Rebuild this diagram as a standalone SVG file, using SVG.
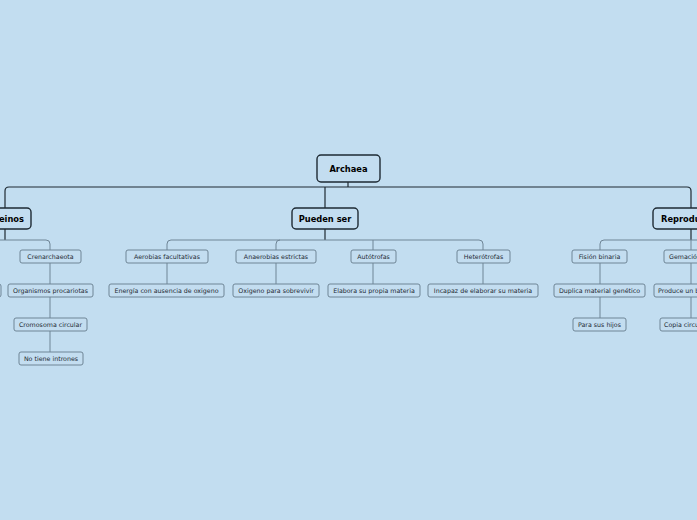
<svg xmlns="http://www.w3.org/2000/svg" width="697" height="520" viewBox="0 0 697 520">
<style>
.m{fill:#c3ddf0;stroke:#1e2a33;stroke-width:1.4}
.s{fill:#c3ddf0;stroke:#6f8596;stroke-width:1}
.t1{font:bold 8.3px "DejaVu Sans",sans-serif;fill:#000;text-anchor:middle}
.t2{font:6.3px "DejaVu Sans",sans-serif;fill:#1e2a33;text-anchor:middle}
.c1{fill:none;stroke:#1e2a33;stroke-width:1.2}
.c2{fill:none;stroke:#6f8596;stroke-width:1}
</style>
<rect width="697" height="520" fill="#c2ddf0"/>
<g id="connectors">
<path class="c1" d="M348 182V187M5 208V191Q5 187 9 187H687Q691 187 691 191V208M325 187V208"/>
<path class="c1" d="M5 229V240M325 229V240M691 229V240"/>
<path class="c2" d="M-40 240H46Q50 240 50 244V250M50 263V284M50 297V318M50 331V352M-40 240V244"/>
<path class="c2" d="M167 250V244Q167 240 171 240H479Q483 240 483 244V250M276 250V244Q276 240 280 240M373 240V250M167 263V284M276 263V284M373 263V284M483 263V284"/>
<path class="c2" d="M600 250V244Q600 240 604 240H720M691 240V250M600 263V284M600 297V318M691 263V284M691 297V318"/>
</g>
<g id="root"><rect class="m" x="317" y="155" width="63" height="27" rx="4"/><text class="t1" x="348.5" y="171.5">Archaea</text></g>
<g id="reinos"><rect class="m" x="-30" y="208" width="61" height="21" rx="4"/><text class="t1" x="24" y="221.5" style="text-anchor:end">Reinos</text></g>
<g id="pueden"><rect class="m" x="292" y="208" width="66" height="21" rx="4"/><text class="t1" x="325" y="221.5">Pueden ser</text></g>
<g id="repro"><rect class="m" x="653" y="208" width="82" height="21" rx="4"/><text class="t1" x="661" y="221.5" style="text-anchor:start">Reproducción</text></g>
<g id="hidden"><rect class="s" x="-80" y="284" width="81" height="13" rx="2"/></g>
<g id="cren"><rect class="s" x="20" y="250" width="61" height="13" rx="2"/><text class="t2" x="50.5" y="259">Crenarchaeota</text></g>
<g id="orgp"><rect class="s" x="8" y="284" width="85" height="13" rx="2"/><text class="t2" x="50.5" y="293">Organismos procariotas</text></g>
<g id="cromo"><rect class="s" x="14" y="318" width="73" height="13" rx="2"/><text class="t2" x="50.5" y="327">Cromosoma circular</text></g>
<g id="intr"><rect class="s" x="19" y="352" width="64" height="13" rx="2"/><text class="t2" x="51" y="361">No tiene intrones</text></g>
<g id="aer"><rect class="s" x="126" y="250" width="82" height="13" rx="2"/><text class="t2" x="167" y="259">Aerobias facultativas</text></g>
<g id="ana"><rect class="s" x="236" y="250" width="80" height="13" rx="2"/><text class="t2" x="276" y="259">Anaerobias estrictas</text></g>
<g id="auto"><rect class="s" x="351" y="250" width="45" height="13" rx="2"/><text class="t2" x="373.5" y="259">Autótrofas</text></g>
<g id="hete"><rect class="s" x="457" y="250" width="53" height="13" rx="2"/><text class="t2" x="483.5" y="259">Heterótrofas</text></g>
<g id="ener"><rect class="s" x="109" y="284" width="115" height="13" rx="2"/><text class="t2" x="166.5" y="293">Energía con ausencia de oxigeno</text></g>
<g id="oxi"><rect class="s" x="233" y="284" width="86" height="13" rx="2"/><text class="t2" x="276" y="293">Oxigeno para sobrevivir</text></g>
<g id="elab"><rect class="s" x="328" y="284" width="92" height="13" rx="2"/><text class="t2" x="374" y="293">Elabora su propia materia</text></g>
<g id="inca"><rect class="s" x="428" y="284" width="110" height="13" rx="2"/><text class="t2" x="483" y="293">Incapaz de elaborar su materia</text></g>
<g id="fis"><rect class="s" x="572" y="250" width="55" height="13" rx="2"/><text class="t2" x="599.5" y="259">Fisión binaria</text></g>
<g id="gem"><rect class="s" x="664" y="250" width="55" height="13" rx="2"/><text class="t2" x="669" y="259" style="text-anchor:start">Gemación</text></g>
<g id="dup"><rect class="s" x="554" y="284" width="91" height="13" rx="2"/><text class="t2" x="599.5" y="293">Duplica material genético</text></g>
<g id="prod"><rect class="s" x="654" y="284" width="75" height="13" rx="2"/><text class="t2" x="658" y="293" style="text-anchor:start">Produce un brote</text></g>
<g id="hijos"><rect class="s" x="573" y="318" width="53" height="13" rx="2"/><text class="t2" x="599.5" y="327">Para sus hijos</text></g>
<g id="copia"><rect class="s" x="660" y="318" width="70" height="13" rx="2"/><text class="t2" x="664" y="327" style="text-anchor:start">Copia circular</text></g>
</svg>
